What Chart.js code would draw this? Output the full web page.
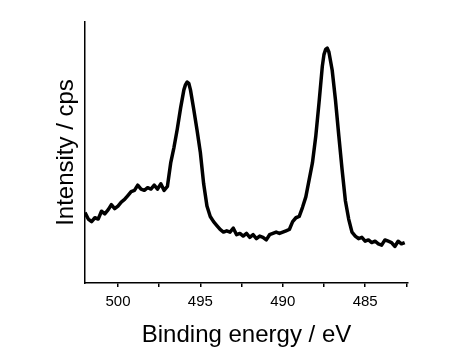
<!DOCTYPE html>
<html>
<head>
<meta charset="utf-8">
<script src="https://cdn.jsdelivr.net/npm/chart.js@4"></script>
<style>
  html, body { margin: 0; padding: 0; background: #fff; }
  #wrap { width: 474px; height: 364px; }
</style>
</head>
<body>
<div id="wrap"><canvas id="xpsChart" width="474" height="364"></canvas></div>
<script>
// binding energy (eV)
const energies = [
  502.0, 501.8, 501.6, 501.4, 501.2, 501.0, 500.8, 500.6, 500.4, 500.2,
  500.0, 499.8, 499.6, 499.4, 499.2, 499.0, 498.8, 498.6, 498.4, 498.2,
  498.0, 497.8, 497.6, 497.4, 497.2, 497.0, 496.8, 496.6, 496.4, 496.2,
  496.0, 495.9, 495.8, 495.7, 495.6, 495.4, 495.2, 495.0, 494.8, 494.6, 494.4, 494.2,
  494.0, 493.8, 493.6, 493.4, 493.2, 493.0, 492.8, 492.6, 492.4, 492.2,
  492.0, 491.8, 491.6, 491.4, 491.2, 491.0, 490.8, 490.6, 490.4, 490.2,
  490.0, 489.8, 489.6, 489.4, 489.2, 489.0, 488.8, 488.6, 488.4, 488.2,
  488.0, 487.8, 487.6, 487.5, 487.4, 487.3, 487.2, 487.0, 486.8, 486.6, 486.4, 486.2,
  486.0, 485.8, 485.6, 485.4, 485.2, 485.0, 484.8, 484.6, 484.4, 484.2,
  484.0, 483.8, 483.6, 483.4, 483.2, 483.0, 482.8, 482.6
];

// intensity in arbitrary units (0-100 of the axis height)
const intensity = [
  27.0, 24.5, 23.5, 25.0, 24.5, 27.5, 26.5, 28.0, 30.0, 28.5,
  29.5, 31.0, 32.0, 33.5, 35.0, 35.5, 37.5, 36.0, 35.5, 36.5,
  36.0, 37.5, 36.0, 38.0, 35.5, 37.0, 46.0, 52.0, 59.0, 67.0,
  74.0, 76.0, 77.0, 76.5, 74.0, 66.5, 58.5, 50.0, 38.0, 29.5, 25.5, 23.5,
  22.0, 20.5, 19.5, 20.0, 19.5, 21.0, 18.5, 19.0, 18.0, 19.0,
  17.5, 18.5, 17.0, 18.0, 17.5, 16.5, 18.5, 19.0, 19.5, 19.0,
  19.5, 20.0, 20.5, 23.5, 25.0, 25.5, 29.0, 33.0, 39.5, 46.0,
  56.0, 69.0, 83.0, 87.5, 89.5, 90.0, 88.5, 81.5, 70.0, 56.5, 43.5, 31.5,
  24.5, 19.5, 18.0, 17.0, 17.5, 16.0, 16.5, 15.5, 16.0, 15.0,
  14.5, 16.5, 16.0, 15.5, 14.0, 16.0, 15.0, 15.5
];

// x tick positions; only multiples of 5 get a label
const xTicks = [500, 497.5, 495, 492.5, 490, 487.5, 485, 482.5];

const points = energies.map((e, i) => ({ x: e, y: intensity[i] }));

const font = 'Liberation Sans, Arial, sans-serif';

const ctx = document.getElementById('xpsChart').getContext('2d');
new Chart(ctx, {
  type: 'line',
  data: {
    datasets: [{
      data: points,
      borderColor: '#000',
      borderWidth: 3.5,
      borderJoinStyle: 'round',
      pointRadius: 0,
      tension: 0,
      fill: false
    }]
  },
  options: {
    responsive: false,
    animation: false,
    layout: { padding: { left: 52, right: 66, top: 22, bottom: 0 } },
    plugins: { legend: { display: false }, tooltip: { enabled: false } },
    scales: {
      x: {
        type: 'linear',
        reverse: true,
        min: 482.4,
        max: 502.0,
        afterBuildTicks: scale => {
          scale.ticks = xTicks.map(v => ({ value: v }));
        },
        afterFit: scale => { scale.height = 81; },
        ticks: {
          color: '#000',
          font: { family: font, size: 15 },
          padding: 6,
          maxRotation: 0,
          autoSkip: false,
          callback: v => (v % 5 === 0 ? String(v) : '')
        },
        grid: {
          drawOnChartArea: false,
          drawTicks: true,
          tickLength: 4,
          color: '#000',
          lineWidth: 1.5
        },
        border: { display: true, color: '#000', width: 1.5 },
        title: {
          display: true,
          text: 'Binding energy / eV',
          color: '#000',
          font: { family: font, size: 24 },
          padding: { top: 0, bottom: 14 }
        }
      },
      y: {
        min: 0,
        max: 100,
        afterFit: scale => { scale.width = 33; },
        ticks: { display: false },
        grid: { display: false },
        border: { display: true, color: '#000', width: 1.5 },
        title: {
          display: true,
          text: 'Intensity / cps',
          color: '#000',
          font: { family: font, size: 24 },
          padding: 0
        }
      }
    }
  }
});
</script>
</body>
</html>
